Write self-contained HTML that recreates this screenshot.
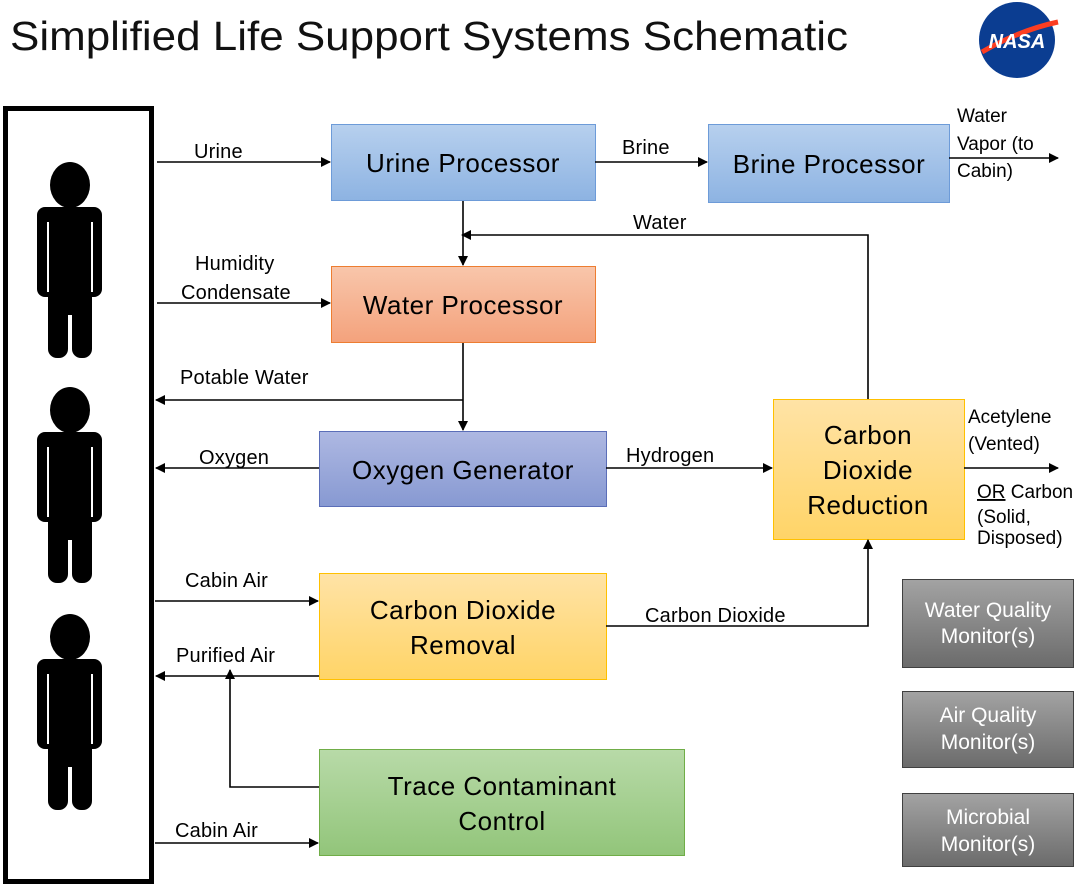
<!DOCTYPE html>
<html><head><style>body{margin:0;background:#fff}svg{display:block}text{font-family:"Liberation Sans",sans-serif}</style></head><body>
<svg width="1075" height="885" viewBox="0 0 1075 885" xmlns="http://www.w3.org/2000/svg">
<defs>
<marker id="a" markerWidth="10" markerHeight="10" refX="9" refY="5" orient="auto" markerUnits="userSpaceOnUse"><path d="M0,0 L10,5 L0,10 z" fill="#000"/></marker>
<linearGradient id="gb" x1="0" y1="0" x2="0" y2="1"><stop offset="0" stop-color="#b7d0ee"/><stop offset="1" stop-color="#8db3e2"/></linearGradient>
<linearGradient id="go" x1="0" y1="0" x2="0" y2="1"><stop offset="0" stop-color="#f8c6ab"/><stop offset="1" stop-color="#f4a27c"/></linearGradient>
<linearGradient id="gp" x1="0" y1="0" x2="0" y2="1"><stop offset="0" stop-color="#aeb8e2"/><stop offset="1" stop-color="#8799d2"/></linearGradient>
<linearGradient id="gy" x1="0" y1="0" x2="0" y2="1"><stop offset="0" stop-color="#ffe3a6"/><stop offset="1" stop-color="#ffd467"/></linearGradient>
<linearGradient id="gg" x1="0" y1="0" x2="0" y2="1"><stop offset="0" stop-color="#b8daa8"/><stop offset="1" stop-color="#92c57a"/></linearGradient>
<linearGradient id="gr" x1="0" y1="0" x2="0" y2="1"><stop offset="0" stop-color="#a3a3a3"/><stop offset="1" stop-color="#6b6b6b"/></linearGradient>
<g id="p" fill="#000"><ellipse cx="70" cy="185" rx="20" ry="23"/><rect x="37" y="207" width="65" height="90" rx="8"/><rect x="49" y="220" width="42" height="95"/><rect x="48" y="280" width="20" height="78" rx="9"/><rect x="72" y="280" width="20" height="78" rx="9"/></g>
</defs>
<text x="10" y="50" font-size="41" fill="#111" textLength="838" lengthAdjust="spacingAndGlyphs">Simplified Life Support Systems Schematic</text>
<circle cx="1017" cy="40" r="38" fill="#0b3d91"/>
<path d="M982,52 Q1020,30 1058,22" stroke="#fc3d21" stroke-width="5" fill="none"/>
<text x="1017" y="48" font-size="20" font-weight="bold" fill="#fff" text-anchor="middle" font-style="italic">NASA</text>
<rect x="5.5" y="108.5" width="146" height="773" fill="none" stroke="#000" stroke-width="5"/>
<use href="#p"/><rect x="47" y="222" width="2" height="70" fill="#fff"/><rect x="91" y="222" width="2" height="70" fill="#fff"/>
<use href="#p" transform="translate(0,225)"/><rect x="47" y="447" width="2" height="70" fill="#fff"/><rect x="91" y="447" width="2" height="70" fill="#fff"/>
<use href="#p" transform="translate(0,452)"/><rect x="47" y="674" width="2" height="70" fill="#fff"/><rect x="91" y="674" width="2" height="70" fill="#fff"/>
<g font-size="26" text-anchor="middle" fill="#000" letter-spacing="0.5">
<rect x="331.5" y="124.5" width="264" height="76" fill="url(#gb)" stroke="#6d9bd8"/><text x="463" y="172">Urine Processor</text>
<rect x="708.5" y="124.5" width="241" height="78" fill="url(#gb)" stroke="#6d9bd8"/><text x="829" y="173">Brine Processor</text>
<rect x="331.5" y="266.5" width="264" height="76" fill="url(#go)" stroke="#ed7d31"/><text x="463" y="314">Water Processor</text>
<rect x="319.5" y="431.5" width="287" height="75" fill="url(#gp)" stroke="#5b6eb8"/><text x="463" y="479">Oxygen Generator</text>
<rect x="773.5" y="399.5" width="191" height="140" fill="url(#gy)" stroke="#ffc000"/><text x="868" y="444">Carbon</text><text x="868" y="479">Dioxide</text><text x="868" y="514">Reduction</text>
<rect x="319.5" y="573.5" width="287" height="106" fill="url(#gy)" stroke="#ffc000"/><text x="463" y="619">Carbon Dioxide</text><text x="463" y="654">Removal</text>
<rect x="319.5" y="749.5" width="365" height="106" fill="url(#gg)" stroke="#70ad47"/><text x="502" y="795">Trace Contaminant</text><text x="502" y="830">Control</text>
</g>
<g font-size="21" text-anchor="middle" fill="#fff">
<rect x="902.5" y="579.5" width="171" height="88" fill="url(#gr)" stroke="#404040"/><text x="988" y="617">Water Quality</text><text x="988" y="643">Monitor(s)</text>
<rect x="902.5" y="691.5" width="171" height="76" fill="url(#gr)" stroke="#404040"/><text x="988" y="722">Air Quality</text><text x="988" y="749">Monitor(s)</text>
<rect x="902.5" y="793.5" width="171" height="73" fill="url(#gr)" stroke="#404040"/><text x="988" y="824">Microbial</text><text x="988" y="851">Monitor(s)</text>
</g>
<g stroke="#000" stroke-width="1.6" fill="none" marker-end="url(#a)">
<path d="M157,162 H330"/><path d="M157,303 H330"/><path d="M463,400 H156"/>
<path d="M463,343 V430"/><path d="M463,201 V265"/><path d="M868,399 V235 H462"/>
<path d="M319,468 H156"/><path d="M606,468 H772"/><path d="M964,468 H1058"/>
<path d="M595,162 H707"/><path d="M949,158 H1058"/>
<path d="M155,601 H318"/><path d="M319,676 H156"/><path d="M319,787 H230 V670"/>
<path d="M155,843 H318"/><path d="M606,626 H868 V540"/>
</g>
<g font-size="20" fill="#000" letter-spacing="0.2">
<text x="194" y="158">Urine</text><text x="195" y="270">Humidity</text><text x="181" y="299">Condensate</text>
<text x="180" y="384">Potable Water</text><text x="199" y="464">Oxygen</text><text x="626" y="462">Hydrogen</text>
<text x="622" y="154">Brine</text><text x="633" y="229">Water</text>
<text x="185" y="587">Cabin Air</text><text x="176" y="662">Purified Air</text><text x="645" y="622">Carbon Dioxide</text>
<text x="175" y="837">Cabin Air</text>
</g>
<g font-size="19" fill="#000">
<text x="957" y="122">Water</text><text x="957" y="150">Vapor (to</text><text x="957" y="177">Cabin)</text>
<text x="968" y="423">Acetylene</text><text x="968" y="450">(Vented)</text>
<text x="977" y="498"><tspan text-decoration="underline">OR</tspan> Carbon</text><text x="977" y="523">(Solid,</text><text x="977" y="544">Disposed)</text>
</g>
</svg>
</body></html>
